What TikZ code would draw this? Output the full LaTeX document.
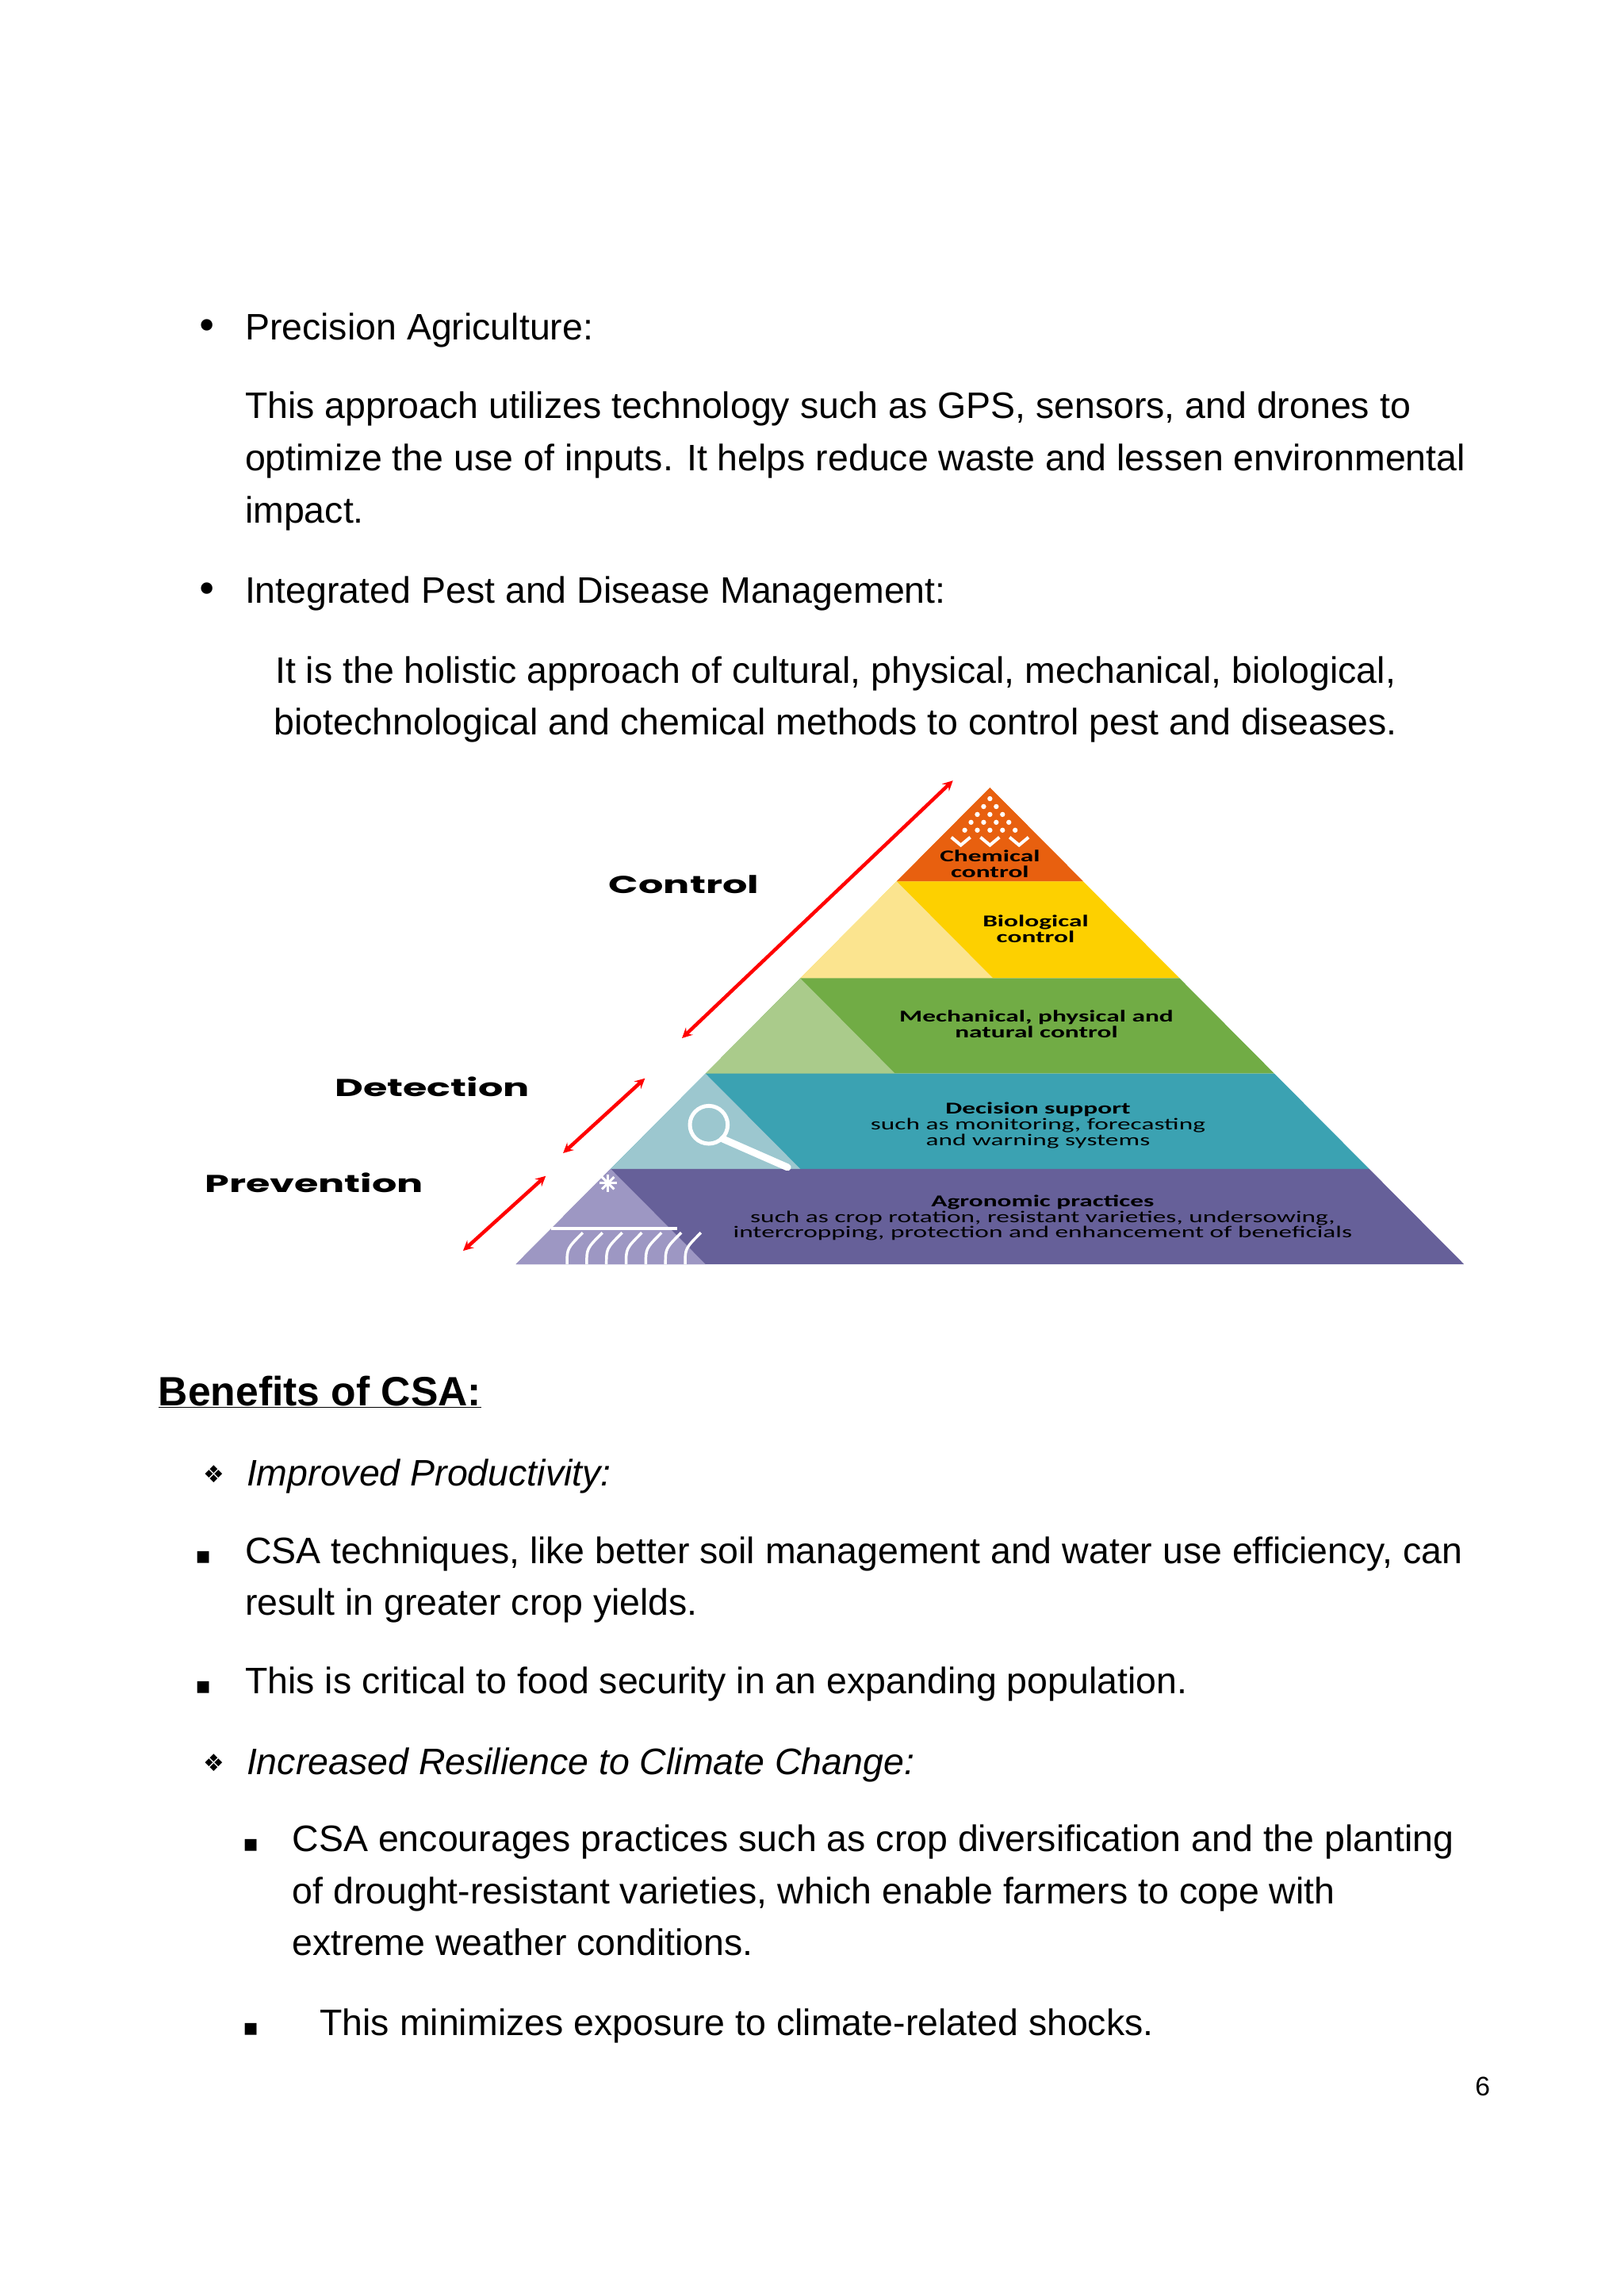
\documentclass[tikz,border=0pt]{standalone}
\usepackage{fontspec}
\setmainfont{Liberation Sans}
\newfontfamily\pyr{Carlito}
\newfontfamily\lab{Poppins}
\newfontfamily\sym{DejaVu Sans}
\newcommand{\pt}[1]{\scalebox{1.6}[1]{\begin{tabular}{@{}c@{}}#1\end{tabular}}}
\begin{document}
\begin{tikzpicture}[x=1pt,y=-1pt,
 body/.style={anchor=base west,inner sep=0pt,font=\fontsize{46.8}{53}\selectfont},
 side/.style={anchor=base west,inner sep=0pt,font=\lab\bfseries\fontsize{31}{36}\selectfont},
 ptxt/.style={align=center,inner sep=0pt,font=\pyr\fontsize{21}{18}\selectfont},
 arr/.style={red,line width=4.5pt,<->,>=stealth}]
\useasboundingbox (0,0) rectangle (2062,2915);
\definecolor{cor}{HTML}{E8600F}\definecolor{cye}{HTML}{FDD000}\definecolor{cyl}{HTML}{FBE48F}
\definecolor{cgr}{HTML}{71AC45}\definecolor{cgl}{HTML}{AACB8B}
\definecolor{cte}{HTML}{3BA2B2}\definecolor{ctl}{HTML}{9CC7CF}
\definecolor{cpu}{HTML}{666099}\definecolor{cpl}{HTML}{9D97C3}
% text
\node[body,font=\sym\fontsize{50}{53}\selectfont] (b1) at (248,431) {•};
\node[body] (t1) at (311,431) {Precision Agriculture:};
\node[body] (t2) at (311,531) {This approach utilizes technology such as GPS, sensors, and drones to};
\node[body] (t3) at (311,598) {optimize the use of inputs. It helps reduce waste and lessen environmental};
\node[body] (t4) at (311,664) {impact.};
\node[body,font=\sym\fontsize{50}{53}\selectfont] (b2) at (248,766) {•};
\node[body] (t5) at (311,766) {Integrated Pest and Disease Management:};
\node[body,anchor=base] (t6) at (1061,867) {It is the holistic approach of cultural, physical, mechanical, biological,};
\node[body,anchor=base] (t7) at (1061,933) {biotechnological and chemical methods to control pest and diseases.};
% pyramid
\def\k{0.995}
\foreach \ya/\yb/\c/\cl in {1000/1119/cor/cor,1119/1242/cye/cyl,1242/1363/cgr/cgl,1363/1484/cte/ctl,1484/1605/cpu/cpl}{
 \fill[\c] ({1257-(\ya-1000)*\k},\ya) -- ({1257+(\ya-1000)*\k},\ya) -- ({1257+(\yb-1000)*\k},\yb) -- ({1257-(\yb-1000)*\k},\yb) -- cycle;
 \fill[\cl] ({1257-(\ya-1000)*\k},\ya) -- ({1257-(\ya-1000)*\k+(\yb-\ya)*\k},\yb) -- ({1257-(\yb-1000)*\k},\yb) -- cycle;
}
\foreach \r in {0,...,4}{\foreach \i in {0,...,\r}{\fill[white] ({1257-\r*8+\i*16},{1014+\r*10}) circle (3.2);}}
\foreach \x in {1220,1257,1294}{\draw[white,line width=4pt] (\x-12,1063) -- (\x,1073) -- (\x+12,1063);}
\draw[white,line width=5pt] (900,1428) circle (24);
\draw[white,line width=9pt,line cap=round] (918,1446) -- (1000,1482);
\draw[white,line width=4pt] (700,1560) -- (860,1560);
\foreach \x in {720,745,770,795,820,845,870}{\draw[white,line width=3.5pt] (\x,1605) .. controls (\x,1585) .. (\x+20,1565);}
\foreach \a in {0,45,...,315}{\draw[white,line width=3pt] (772,1502) -- ++(\a:11);}
\node[ptxt] (chem) at (1257,1099) {\pt{\bfseries Chemical\\\bfseries control}};
\node[ptxt] (bio) at (1315,1182) {\pt{\bfseries Biological\\\bfseries control}};
\node[ptxt] (mech) at (1316,1303) {\pt{\bfseries Mechanical, physical and\\\bfseries natural control}};
\node[ptxt] (dec) at (1318,1430) {\pt{\bfseries Decision support\\such as monitoring, forecasting\\and warning systems}};
\node[ptxt] (agr) at (1324,1547) {\pt{\bfseries Agronomic practices\\such as crop rotation, resistant varieties, undersowing,\\intercropping, protection and enhancement of beneficials}};
\node[side] (ctl) at (773,1134) {\scalebox{1.6}[1]{Control}};
\node[side] (det) at (425,1392) {\scalebox{1.6}[1]{Detection}};
\node[side] (pre) at (260,1514) {\scalebox{1.6}[1]{Prevention}};
\coordinate (a1) at (1210,991);\coordinate (a2) at (866,1318);
\coordinate (a3) at (819,1369);\coordinate (a4) at (715,1464);
\coordinate (a5) at (693,1493);\coordinate (a6) at (588,1588);
\draw[arr] (a1) -- (a2); \draw[arr] (a3) -- (a4); \draw[arr] (a5) -- (a6);
% benefits
\node[body,font=\bfseries\fontsize{52}{60}\selectfont] (ben) at (201,1785) {\underline{Benefits of CSA:}};
\node[body,font=\sym\fontsize{30}{30}\selectfont] (s1) at (258,1882) {❖};
\node[body] (t8) at (313,1886) {\itshape Improved Productivity:};
\node[body,font=\sym\fontsize{30}{30}\selectfont] (q1) at (248,1985) {▪};
\node[body] (t9) at (311,1985) {CSA techniques, like better soil management and water use efficiency, can};
\node[body] (t10) at (311,2051) {result in greater crop yields.};
\node[body,font=\sym\fontsize{30}{30}\selectfont] (q2) at (248,2150) {▪};
\node[body] (t11) at (311,2150) {This is critical to food security in an expanding population.};
\node[body,font=\sym\fontsize{30}{30}\selectfont] (s2) at (258,2249) {❖};
\node[body] (t12) at (313,2253) {\itshape Increased Resilience to Climate Change:};
\node[body,font=\sym\fontsize{30}{30}\selectfont] (q3) at (308,2351) {▪};
\node[body] (t13) at (371,2351) {CSA encourages practices such as crop diversification and the planting};
\node[body] (t14) at (371,2417) {of drought-resistant varieties, which enable farmers to cope with};
\node[body] (t15) at (371,2483) {extreme weather conditions.};
\node[body,font=\sym\fontsize{30}{30}\selectfont] (q4) at (308,2584) {▪};
\node[body] (t16) at (406,2584) {This minimizes exposure to climate-related shocks.};
\node[body,font=\fontsize{34}{40}\selectfont] (pg) at (1873,2661) {6};
\end{tikzpicture}
\end{document}
